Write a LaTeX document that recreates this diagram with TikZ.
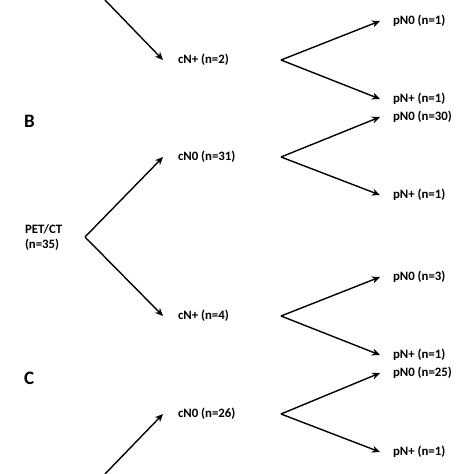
\documentclass[tikz,border=0pt]{standalone}
\usepackage{fontspec}
\setmainfont{Carlito}
\usetikzlibrary{arrows.meta}
\begin{document}
\begin{tikzpicture}[x=1pt,y=-1pt,
  lab/.style={font=\bfseries\fontsize{12.8}{15}\selectfont, anchor=west, inner ysep=0pt, outer sep=0pt},
  clab/.style={lab, inner xsep=15pt},
  plab/.style={lab, inner xsep=13pt},
  big/.style={font=\bfseries\fontsize{19}{22}\selectfont, anchor=west, inner sep=0pt},
  arr/.style={line width=1.4pt, -{Stealth[length=8pt,width=7pt,inset=2.5pt]}}]
\useasboundingbox (0,0) rectangle (474,474);
% Part A (lower half)
\coordinate (a0) at (105,0);
\node[clab] (c1) at (163,60) {cN+ (n=2)};
\coordinate (f1) at (281,60);
\node[plab] (p1) at (380,21) {pN0 (n=1)};
\node[plab] (p2) at (380,99) {pN+ (n=1)};
\draw[arr] (a0) -- (c1.west);
\draw[arr] (f1) -- (p1.west);
\draw[arr] (f1) -- (p2.west);
% Part B
\node[big] (B) at (24,121) {B};
\node[lab, align=left, inner sep=0pt] (pet) at (25,237) {PET/CT\\(n=35)};
\coordinate (v) at (85,237);
\node[clab] (c2) at (163,157) {cN0 (n=31)};
\coordinate (f2) at (281,157);
\node[plab] (p3) at (380,117) {pN0 (n=30)};
\node[plab] (p4) at (380,195) {pN+ (n=1)};
\node[clab] (c3) at (163,316) {cN+ (n=4)};
\coordinate (f3) at (281,316);
\node[plab] (p5) at (380,277) {pN0 (n=3)};
\node[plab] (p6) at (380,355) {pN+ (n=1)};
\draw[arr] (v) -- (c2.west);
\draw[arr] (v) -- (c3.west);
\draw[arr] (f2) -- (p3.west);
\draw[arr] (f2) -- (p4.west);
\draw[arr] (f3) -- (p5.west);
\draw[arr] (f3) -- (p6.west);
% Part C
\node[big] (C) at (24,378) {C};
\coordinate (b0) at (105,474);
\node[clab] (c4) at (163,414) {cN0 (n=26)};
\coordinate (f4) at (281,414);
\node[plab] (p7) at (380,373) {pN0 (n=25)};
\node[plab] (p8) at (380,452) {pN+ (n=1)};
\draw[arr] (b0) -- (c4.west);
\draw[arr] (f4) -- (p7.west);
\draw[arr] (f4) -- (p8.west);
\end{tikzpicture}
\end{document}
